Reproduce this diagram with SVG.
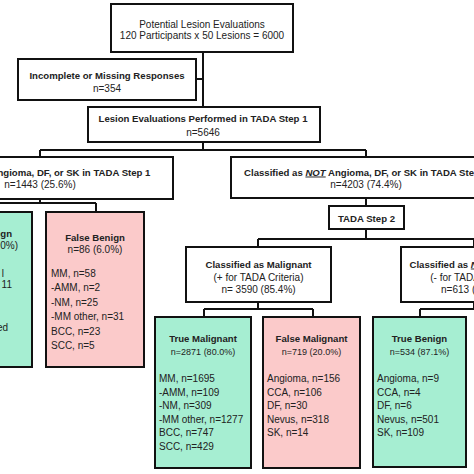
<svg xmlns="http://www.w3.org/2000/svg" width="474" height="474" viewBox="0 0 474 474">
<style>
rect{stroke:#111;stroke-width:2}
.w{fill:#fff}
.g{fill:#a6eed2}
.p{fill:#fbcaca}
text{font-family:"Liberation Sans",Arial,sans-serif;fill:#222;font-size:10px}
.c{text-anchor:middle}
.e{text-anchor:end}
.b{font-weight:bold;font-size:9.6px}
.s{font-size:9px}
.conn path{fill:none;stroke:#111;stroke-width:2}
</style>
<g class="conn">
<path d="M203 52V107M196 79H203"/>
<path d="M203 142V150M40 150H366M40 150V157M366 150V157"/>
<path d="M40 199V203M-20 203H96M96 203V212M-20 203V212"/>
<path d="M366 198V206M366 229V239M258 239H480M258 239V247M474 239V247"/>
<path d="M258 302V309M204 309H313M204 309V317M313 309V317"/>
<path d="M474 302V309M420 309H480M420 309V317"/>
</g>
<g id="n1"><rect class="w" x="111" y="4" width="182" height="48"/>
<text class="c" x="202" y="27.5">Potential Lesion Evaluations</text>
<text class="c" x="202" y="39">120 Participants x 50 Lesions = 6000</text></g>
<g id="n2"><rect class="w" x="18" y="59" width="178" height="41"/>
<text class="c b" x="107" y="78.5">Incomplete or Missing Responses</text>
<text class="c" x="107" y="91.5">n=354</text></g>
<g id="n3"><rect class="w" x="88" y="107" width="232" height="35"/>
<text class="c b" x="203" y="121.5">Lesion Evaluations Performed in TADA Step 1</text>
<text class="c" x="203" y="135.5">n=5646</text></g>
<g id="n4"><rect class="w" x="-93" y="157" width="266" height="42"/>
<text class="c b" x="40" y="175.5">Classified as Angioma, DF, or SK in TADA Step 1</text>
<text class="c" x="40" y="188">n=1443 (25.6%)</text></g>
<g id="n5"><rect class="w" x="231" y="157" width="270" height="41"/>
<text class="c b" x="366" y="175.5">Classified as <tspan font-style="italic" text-decoration="underline">NOT</tspan> Angioma, DF, or SK in TADA Step 1</text>
<text class="c" x="366" y="188">n=4203 (74.4%)</text></g>
<g id="n6"><rect class="w" x="329" y="206" width="75" height="23"/>
<text class="c b" x="366.5" y="221.5">TADA Step 2</text></g>
<g id="n7"><rect class="w" x="186" y="247" width="145" height="55"/>
<text class="c b" x="258.5" y="267.5">Classified as Malignant</text>
<text class="c" x="258.5" y="280.5">(+ for TADA Criteria)</text>
<text class="c" x="258.5" y="292.5">n= 3590 (85.4%)</text></g>
<g id="n8"><rect class="w" x="401" y="247" width="147" height="55"/>
<text class="c b" x="474" y="267.5">Classified as <tspan font-style="italic" text-decoration="underline">NOT</tspan> Malignant</text>
<text class="c" x="474" y="280.5">(- for TADA Criteria)</text>
<text class="c" x="474" y="292.5">n=613 (14.6%)</text></g>
<g id="n9"><rect class="g" x="-70" y="212" width="102" height="155"/>
<text class="e b" x="12" y="236.5">True Benign</text>
<text class="e" x="18" y="248.5">n=1357 (94.0%)</text>
<text class="e" x="4" y="276.5">l</text>
<text class="e" x="12" y="288">11</text>
<text class="e" x="8" y="330.5">ed</text></g>
<g id="n10"><rect class="p" x="46" y="212" width="98" height="155"/>
<text class="c b" x="95" y="241">False Benign</text>
<text class="c" x="95" y="253">n=86 (6.0%)</text>
<text x="51" y="276.5">MM, n=58</text>
<text x="51" y="291">-AMM, n=2</text>
<text x="51" y="305.5">-NM, n=25</text>
<text x="51" y="320">-MM other, n=31</text>
<text x="51" y="334.5">BCC, n=23</text>
<text x="51" y="349">SCC, n=5</text></g>
<g id="n11"><rect class="g" x="155" y="317" width="96" height="151"/>
<text class="c b" x="203" y="342">True Malignant</text>
<text class="c s" x="203" y="354.5">n=2871 (80.0%)</text>
<text x="159" y="382">MM, n=1695</text>
<text x="159" y="395.5">-AMM, n=109</text>
<text x="159" y="409">-NM, n=309</text>
<text x="159" y="422.5">-MM other, n=1277</text>
<text x="159" y="436">BCC, n=747</text>
<text x="159" y="449.5">SCC, n=429</text></g>
<g id="n12"><rect class="p" x="263" y="317" width="97" height="151"/>
<text class="c b" x="311.5" y="342">False Malignant</text>
<text class="c s" x="311.5" y="354.5">n=719 (20.0%)</text>
<text x="267" y="382">Angioma, n=156</text>
<text x="267" y="395.5">CCA, n=106</text>
<text x="267" y="409">DF, n=30</text>
<text x="267" y="422.5">Nevus, n=318</text>
<text x="267" y="436">SK, n=14</text></g>
<g id="n13"><rect class="g" x="373" y="317" width="93" height="150"/>
<text class="c b" x="419.5" y="342">True Benign</text>
<text class="c s" x="419.5" y="354.5">n=534 (87.1%)</text>
<text x="377" y="382">Angioma, n=9</text>
<text x="377" y="395.5">CCA, n=4</text>
<text x="377" y="409">DF, n=6</text>
<text x="377" y="422.5">Nevus, n=501</text>
<text x="377" y="436">SK, n=109</text></g>
</svg>
